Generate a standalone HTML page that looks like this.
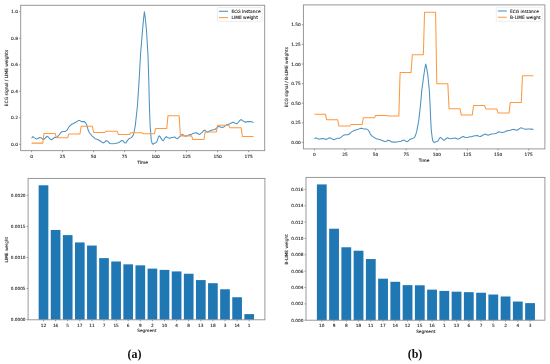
<!DOCTYPE html>
<html lang="en"><head><meta charset="utf-8"><title>Figure</title>
<style>html,body{margin:0;padding:0;background:#fff;overflow:hidden}svg{display:block}</style></head>
<body>
<svg width="550" height="364" viewBox="0 0 550 364" font-family="'DejaVu Sans', 'Liberation Sans', sans-serif">
<rect width="550" height="364" fill="#fff"/>
<g fill="none" stroke-linejoin="round" stroke-linecap="butt" opacity="0.8">
<polyline points="31.6,138.21 32.89,136.55 34.55,137.83 36.45,139.11 38.36,138.21 39.64,137.58 41.55,138.09 43.45,139.49 45.11,138.21 46.89,136.3 48.55,137.19 50.07,139.11 51.35,139.75 53,138.73 54.91,137.19 56.82,137.45 58.73,135.28 61.27,132.08 63.18,131.44 65.47,131.44 67,130.17 68.91,126.97 71.46,124.42 73.36,123.52 75.91,122.24 78.46,120.58 79.98,120.58 81.64,121.61 84.18,121.48 85.84,123.14 87.11,125.95 88.05,129.78 89.45,132.72 92,135.91 95.18,138.73 97.73,139.49 100.27,141.02 102.82,142.94 104.73,142.3 106,140.64 107.91,141.28 109.82,143.58 112.36,143.84 114.91,143.58 117.46,142.94 119.36,142.3 121.27,140.77 122.8,140.51 124.46,142.69 125,142.85 125.98,142.94 126.45,142.12 127.91,139.93 129.36,138.47 130.82,137.88 132.27,136.64 133.36,134.82 134.09,131.9 134.82,128.25 135.33,125.33 137.45,105.75 139.1,80.66 140.45,55.57 142.5,30.47 143.6,18.42 144.4,11.8 145.3,18.42 146.5,30.47 148,55.57 148.8,80.66 149.4,105.75 150.09,125.33 150.45,129.71 150.82,134.82 151.33,140.66 152.05,143.21 153,144.31 154.09,143.43 155.55,142.85 156.64,142.12 157.51,139.93 158.45,137.01 159.18,135.77 160.05,136.64 161,138.1 162.09,139.93 163.18,140.8 164.82,138.21 166.35,136.55 168,137.83 169.91,138.21 171.82,137.45 173.35,137.19 174.62,136.94 176.27,138.47 177.55,138.73 179.46,136.94 180.98,135.28 182.64,134.38 183.91,135.66 185.82,136.17 187.35,135.66 189,134.89 190.91,134.64 192.82,133.61 194.73,133.1 196.64,132.72 198.29,134 199.82,134.38 201.73,132.72 201.91,132.72 203.82,130.42 204.84,130.17 206.11,131.44 207.64,132.08 209.55,131.06 211.45,130.17 213.36,129.78 215.27,129.27 216.8,127.99 218.45,126.33 220.36,126.97 222.27,127.61 224.18,126.72 226.09,125.06 228,124.42 229.91,123.78 231.82,122.76 233.35,122.24 235,123.14 236.91,123.78 238.18,122.5 239.71,120.58 240.98,119.56 242.64,120.58 244.55,121.86 246.07,122.12 247.73,121.61 249.64,121.48 251.55,121.86 253.56,122.5" stroke="#1f77b4" stroke-width="1.05"/>
<polyline points="31.6,143.11 32.84,143.11 34.08,143.11 35.32,143.11 36.56,143.11 37.8,143.11 39.04,143.11 40.28,143.11 41.52,143.11 42.76,143.11 44,133.42 45.24,133.42 46.48,133.42 47.72,133.42 48.96,133.42 50.2,133.42 51.44,133.42 52.68,133.42 53.92,133.42 55.16,133.42 56.4,137.82 57.64,137.82 58.88,137.82 60.12,137.82 61.36,137.82 62.6,137.82 63.84,137.82 65.08,137.82 66.32,137.82 67.56,137.82 68.8,134.02 70.04,134.02 71.28,134.02 72.52,134.02 73.76,134.02 75,134.02 76.24,134.02 77.48,134.02 78.72,134.02 79.96,134.02 81.2,126.28 82.44,126.28 83.68,126.28 84.92,126.28 86.16,126.28 87.4,126.28 88.64,126.28 89.88,126.28 91.12,126.28 92.36,126.28 93.6,132.51 94.84,132.51 96.08,132.51 97.32,132.51 98.56,132.51 99.8,132.51 101.04,132.51 102.28,132.51 103.52,132.51 104.76,132.51 106,131.18 107.24,131.18 108.48,131.18 109.72,131.18 110.96,131.18 112.2,131.18 113.44,131.18 114.68,131.18 115.92,131.18 117.16,131.18 118.4,134.51 119.64,134.51 120.88,134.51 122.12,134.51 123.36,134.51 124.6,134.51 125.84,134.51 127.08,134.51 128.32,134.51 129.56,134.51 130.8,132.72 132.04,132.72 133.28,132.72 134.52,132.72 135.76,132.72 137,132.72 138.24,132.72 139.48,132.72 140.72,132.72 141.96,132.72 143.2,133.69 144.44,133.69 145.68,133.69 146.92,133.69 148.16,133.69 149.4,133.69 150.64,133.69 151.88,133.69 153.12,133.69 154.36,133.69 155.6,128.51 156.84,128.51 158.08,128.51 159.32,128.51 160.56,128.51 161.8,128.51 163.04,128.51 164.28,128.51 165.52,128.51 166.76,128.51 168,115.67 169.24,115.67 170.48,115.67 171.72,115.67 172.96,115.67 174.2,115.67 175.44,115.67 176.68,115.67 177.92,115.67 179.16,115.67 180.4,135.86 181.64,135.86 182.88,135.86 184.12,135.86 185.36,135.86 186.6,135.86 187.84,135.86 189.08,135.86 190.32,135.86 191.56,135.86 192.8,139.52 194.04,139.52 195.28,139.52 196.52,139.52 197.76,139.52 199,139.52 200.24,139.52 201.48,139.52 202.72,139.52 203.96,139.52 205.2,131.9 206.44,131.9 207.68,131.9 208.92,131.9 210.16,131.9 211.4,131.9 212.64,131.9 213.88,131.9 215.12,131.9 216.36,131.9 217.6,125.18 218.84,125.18 220.08,125.18 221.32,125.18 222.56,125.18 223.8,125.18 225.04,125.18 226.28,125.18 227.52,125.18 228.76,125.18 230,127.84 231.24,127.84 232.48,127.84 233.72,127.84 234.96,127.84 236.2,127.84 237.44,127.84 238.68,127.84 239.92,127.84 241.16,127.84 242.4,136.52 243.64,136.52 244.88,136.52 246.12,136.52 247.36,136.52 248.6,136.52 249.84,136.52 251.08,136.52 252.32,136.52 253.56,136.52" stroke="#ff7f0e" stroke-width="1.05"/>
</g>
<rect x="20.7" y="5.27" width="244" height="145.38" fill="none" stroke="#8e8e8e" stroke-width="0.9"/>
<line x1="31.6" y1="150.65" x2="31.6" y2="152.19" stroke="#8e8e8e" stroke-width="0.9"/>
<text transform="translate(31.6 157.67) scale(0.2195)" font-size="20" text-anchor="middle" fill="#262626" stroke="#262626" stroke-width="0.5">0</text>
<line x1="62.6" y1="150.65" x2="62.6" y2="152.19" stroke="#8e8e8e" stroke-width="0.9"/>
<text transform="translate(62.6 157.67) scale(0.2195)" font-size="20" text-anchor="middle" fill="#262626" stroke="#262626" stroke-width="0.5">25</text>
<line x1="93.6" y1="150.65" x2="93.6" y2="152.19" stroke="#8e8e8e" stroke-width="0.9"/>
<text transform="translate(93.6 157.67) scale(0.2195)" font-size="20" text-anchor="middle" fill="#262626" stroke="#262626" stroke-width="0.5">50</text>
<line x1="124.6" y1="150.65" x2="124.6" y2="152.19" stroke="#8e8e8e" stroke-width="0.9"/>
<text transform="translate(124.6 157.67) scale(0.2195)" font-size="20" text-anchor="middle" fill="#262626" stroke="#262626" stroke-width="0.5">75</text>
<line x1="155.6" y1="150.65" x2="155.6" y2="152.19" stroke="#8e8e8e" stroke-width="0.9"/>
<text transform="translate(155.6 157.67) scale(0.2195)" font-size="20" text-anchor="middle" fill="#262626" stroke="#262626" stroke-width="0.5">100</text>
<line x1="186.6" y1="150.65" x2="186.6" y2="152.19" stroke="#8e8e8e" stroke-width="0.9"/>
<text transform="translate(186.6 157.67) scale(0.2195)" font-size="20" text-anchor="middle" fill="#262626" stroke="#262626" stroke-width="0.5">125</text>
<line x1="217.6" y1="150.65" x2="217.6" y2="152.19" stroke="#8e8e8e" stroke-width="0.9"/>
<text transform="translate(217.6 157.67) scale(0.2195)" font-size="20" text-anchor="middle" fill="#262626" stroke="#262626" stroke-width="0.5">150</text>
<line x1="248.6" y1="150.65" x2="248.6" y2="152.19" stroke="#8e8e8e" stroke-width="0.9"/>
<text transform="translate(248.6 157.67) scale(0.2195)" font-size="20" text-anchor="middle" fill="#262626" stroke="#262626" stroke-width="0.5">175</text>
<line x1="19.16" y1="144.3" x2="20.7" y2="144.3" stroke="#8e8e8e" stroke-width="0.9"/>
<text transform="translate(18.07 145.9) scale(0.2195)" font-size="20" text-anchor="end" fill="#262626" stroke="#262626" stroke-width="0.5">0.0</text>
<line x1="19.16" y1="117.8" x2="20.7" y2="117.8" stroke="#8e8e8e" stroke-width="0.9"/>
<text transform="translate(18.07 119.4) scale(0.2195)" font-size="20" text-anchor="end" fill="#262626" stroke="#262626" stroke-width="0.5">0.2</text>
<line x1="19.16" y1="91.3" x2="20.7" y2="91.3" stroke="#8e8e8e" stroke-width="0.9"/>
<text transform="translate(18.07 92.9) scale(0.2195)" font-size="20" text-anchor="end" fill="#262626" stroke="#262626" stroke-width="0.5">0.4</text>
<line x1="19.16" y1="64.8" x2="20.7" y2="64.8" stroke="#8e8e8e" stroke-width="0.9"/>
<text transform="translate(18.07 66.4) scale(0.2195)" font-size="20" text-anchor="end" fill="#262626" stroke="#262626" stroke-width="0.5">0.6</text>
<line x1="19.16" y1="38.3" x2="20.7" y2="38.3" stroke="#8e8e8e" stroke-width="0.9"/>
<text transform="translate(18.07 39.9) scale(0.2195)" font-size="20" text-anchor="end" fill="#262626" stroke="#262626" stroke-width="0.5">0.8</text>
<line x1="19.16" y1="11.8" x2="20.7" y2="11.8" stroke="#8e8e8e" stroke-width="0.9"/>
<text transform="translate(18.07 13.4) scale(0.2195)" font-size="20" text-anchor="end" fill="#262626" stroke="#262626" stroke-width="0.5">1.0</text>
<text transform="translate(142.7 163.64) scale(0.2195)" font-size="20" text-anchor="middle" fill="#262626" stroke="#262626" stroke-width="0.5">Time</text>
<text transform="translate(8.1 77.9) rotate(-90) scale(0.2195)" font-size="20" text-anchor="middle" fill="#262626" stroke="#262626" stroke-width="0.5">ECG signal / LIME weights</text>
<rect x="217.4" y="7.5" width="44.7" height="13.9" rx="0.88" fill="#fff" fill-opacity="0.8" stroke="#ccc" stroke-width="0.35"/>
<line x1="218.94" y1="11.28" x2="228.02" y2="11.28" stroke="#1f77b4" stroke-width="1.05" opacity="0.8"/>
<text transform="translate(231.45 12.81) scale(0.2195)" font-size="20" text-anchor="start" fill="#262626" stroke="#262626" stroke-width="0.5">ECG instance</text>
<line x1="218.94" y1="17.6" x2="228.02" y2="17.6" stroke="#ff7f0e" stroke-width="1.05" opacity="0.8"/>
<text transform="translate(231.45 19.13) scale(0.2195)" font-size="20" text-anchor="start" fill="#262626" stroke="#262626" stroke-width="0.5">LIME weight</text>
<g fill="none" stroke-linejoin="round" stroke-linecap="butt" opacity="0.8">
<polyline points="314.4,138.8 315.67,137.82 317.31,138.57 319.19,139.33 321.08,138.8 322.33,138.42 324.22,138.72 326.1,139.55 327.74,138.8 329.49,137.67 331.13,138.19 332.63,139.33 333.89,139.71 335.52,139.1 337.41,138.19 339.29,138.35 341.18,137.06 343.69,135.17 345.57,134.79 347.84,134.79 349.34,134.04 351.23,132.15 353.74,130.63 355.63,130.11 358.14,129.35 360.65,128.37 362.16,128.37 363.79,128.97 366.3,128.9 367.94,129.88 369.19,131.54 370.13,133.81 371.51,135.55 374.02,137.44 377.16,139.1 379.67,139.55 382.19,140.46 384.7,141.6 386.58,141.22 387.84,140.24 389.72,140.61 391.61,141.97 394.12,142.13 396.63,141.97 399.15,141.6 401.03,141.22 402.92,140.31 404.42,140.16 406.06,141.44 406.59,141.54 407.56,141.6 408.03,141.11 409.47,139.81 410.9,138.95 412.34,138.6 413.77,137.87 414.85,136.79 415.57,135.06 416.29,132.9 416.79,131.17 418.88,119.59 420.51,104.74 421.85,89.9 423.87,75.05 424.95,67.92 425.74,64 426.63,67.92 427.82,75.05 429.3,89.9 430.09,104.74 430.68,119.59 431.36,131.17 431.72,133.77 432.08,136.79 432.58,140.25 433.3,141.76 434.23,142.41 435.31,141.89 436.75,141.54 437.82,141.11 438.68,139.81 439.62,138.09 440.34,137.35 441.2,137.87 442.13,138.73 443.21,139.81 444.28,140.33 445.9,138.8 447.41,137.82 449.04,138.57 450.92,138.8 452.81,138.35 454.32,138.19 455.57,138.04 457.21,138.95 458.46,139.1 460.35,138.04 461.86,137.06 463.49,136.53 464.74,137.29 466.63,137.59 468.14,137.29 469.77,136.83 471.65,136.68 473.54,136.08 475.42,135.78 477.31,135.55 478.94,136.3 480.45,136.53 482.33,135.55 482.51,135.55 484.4,134.19 485.4,134.04 486.66,134.79 488.17,135.17 490.05,134.57 491.93,134.04 493.82,133.81 495.7,133.51 497.21,132.75 498.84,131.77 500.73,132.15 502.61,132.52 504.5,132 506.38,131.01 508.27,130.63 510.15,130.26 512.04,129.65 513.54,129.35 515.18,129.88 517.06,130.26 518.32,129.5 519.82,128.37 521.08,127.76 522.71,128.37 524.6,129.12 526.11,129.27 527.74,128.97 529.62,128.9 531.51,129.12 533.5,129.5" stroke="#1f77b4" stroke-width="1.05"/>
<polyline points="314.4,114.33 315.62,114.33 316.85,114.33 318.07,114.33 319.3,114.33 320.52,114.33 321.74,114.33 322.97,114.33 324.19,114.33 325.42,114.33 326.64,119.66 327.86,119.66 329.09,119.66 330.31,119.66 331.54,119.66 332.76,119.66 333.98,119.66 335.21,119.66 336.43,119.66 337.66,119.66 338.88,126.01 340.1,126.01 341.33,126.01 342.55,126.01 343.78,126.01 345,126.01 346.22,126.01 347.45,126.01 348.67,126.01 349.9,126.01 351.12,124.52 352.34,124.52 353.57,124.52 354.79,124.52 356.02,124.52 357.24,124.52 358.46,124.52 359.69,124.52 360.91,124.52 362.14,124.52 363.36,117.78 364.58,117.78 365.81,117.78 367.03,117.78 368.26,117.78 369.48,117.78 370.7,117.78 371.93,117.78 373.15,117.78 374.38,117.78 375.6,115.51 376.82,115.51 378.05,115.51 379.27,115.51 380.5,115.51 381.72,115.51 382.94,115.51 384.17,115.51 385.39,115.51 386.62,115.51 387.84,116.06 389.06,116.06 390.29,116.06 391.51,116.06 392.74,116.06 393.96,116.06 395.18,116.06 396.41,116.06 397.63,116.06 398.86,116.06 400.08,72.47 401.3,72.47 402.53,72.47 403.75,72.47 404.98,72.47 406.2,72.47 407.42,72.47 408.65,72.47 409.87,72.47 411.1,72.47 412.32,54.67 413.54,54.67 414.77,54.67 415.99,54.67 417.22,54.67 418.44,54.67 419.66,54.67 420.89,54.67 422.11,54.67 423.34,54.67 424.56,12.18 425.78,12.18 427.01,12.18 428.23,12.18 429.46,12.18 430.68,12.18 431.9,12.18 433.13,12.18 434.35,12.18 435.58,12.18 436.8,83.76 438.02,83.76 439.25,83.76 440.47,83.76 441.7,83.76 442.92,83.76 444.14,83.76 445.37,83.76 446.59,83.76 447.82,83.76 449.04,108.77 450.26,108.77 451.49,108.77 452.71,108.77 453.94,108.77 455.16,108.77 456.38,108.77 457.61,108.77 458.83,108.77 460.06,108.77 461.28,115.04 462.5,115.04 463.73,115.04 464.95,115.04 466.18,115.04 467.4,115.04 468.62,115.04 469.85,115.04 471.07,115.04 472.3,115.04 473.52,105.55 474.74,105.55 475.97,105.55 477.19,105.55 478.42,105.55 479.64,105.55 480.86,105.55 482.09,105.55 483.31,105.55 484.54,105.55 485.76,108.92 486.98,108.92 488.21,108.92 489.43,108.92 490.66,108.92 491.88,108.92 493.1,108.92 494.33,108.92 495.55,108.92 496.78,108.92 498,113.08 499.22,113.08 500.45,113.08 501.67,113.08 502.9,113.08 504.12,113.08 505.34,113.08 506.57,113.08 507.79,113.08 509.02,113.08 510.24,102.57 511.46,102.57 512.69,102.57 513.91,102.57 515.14,102.57 516.36,102.57 517.58,102.57 518.81,102.57 520.03,102.57 521.26,102.57 522.48,75.76 523.7,75.76 524.93,75.76 526.15,75.76 527.38,75.76 528.6,75.76 529.82,75.76 531.05,75.76 532.27,75.76 533.5,75.76" stroke="#ff7f0e" stroke-width="1.05"/>
</g>
<rect x="303.4" y="4.9" width="241.5" height="144" fill="none" stroke="#8e8e8e" stroke-width="0.9"/>
<line x1="314.4" y1="148.9" x2="314.4" y2="150.41" stroke="#8e8e8e" stroke-width="0.9"/>
<text transform="translate(314.4 155.81) scale(0.2160)" font-size="20" text-anchor="middle" fill="#262626" stroke="#262626" stroke-width="0.5">0</text>
<line x1="345" y1="148.9" x2="345" y2="150.41" stroke="#8e8e8e" stroke-width="0.9"/>
<text transform="translate(345 155.81) scale(0.2160)" font-size="20" text-anchor="middle" fill="#262626" stroke="#262626" stroke-width="0.5">25</text>
<line x1="375.6" y1="148.9" x2="375.6" y2="150.41" stroke="#8e8e8e" stroke-width="0.9"/>
<text transform="translate(375.6 155.81) scale(0.2160)" font-size="20" text-anchor="middle" fill="#262626" stroke="#262626" stroke-width="0.5">50</text>
<line x1="406.2" y1="148.9" x2="406.2" y2="150.41" stroke="#8e8e8e" stroke-width="0.9"/>
<text transform="translate(406.2 155.81) scale(0.2160)" font-size="20" text-anchor="middle" fill="#262626" stroke="#262626" stroke-width="0.5">75</text>
<line x1="436.8" y1="148.9" x2="436.8" y2="150.41" stroke="#8e8e8e" stroke-width="0.9"/>
<text transform="translate(436.8 155.81) scale(0.2160)" font-size="20" text-anchor="middle" fill="#262626" stroke="#262626" stroke-width="0.5">100</text>
<line x1="467.4" y1="148.9" x2="467.4" y2="150.41" stroke="#8e8e8e" stroke-width="0.9"/>
<text transform="translate(467.4 155.81) scale(0.2160)" font-size="20" text-anchor="middle" fill="#262626" stroke="#262626" stroke-width="0.5">125</text>
<line x1="498" y1="148.9" x2="498" y2="150.41" stroke="#8e8e8e" stroke-width="0.9"/>
<text transform="translate(498 155.81) scale(0.2160)" font-size="20" text-anchor="middle" fill="#262626" stroke="#262626" stroke-width="0.5">150</text>
<line x1="528.6" y1="148.9" x2="528.6" y2="150.41" stroke="#8e8e8e" stroke-width="0.9"/>
<text transform="translate(528.6 155.81) scale(0.2160)" font-size="20" text-anchor="middle" fill="#262626" stroke="#262626" stroke-width="0.5">175</text>
<line x1="301.89" y1="142.4" x2="303.4" y2="142.4" stroke="#8e8e8e" stroke-width="0.9"/>
<text transform="translate(300.81 143.98) scale(0.2160)" font-size="20" text-anchor="end" fill="#262626" stroke="#262626" stroke-width="0.5">0.00</text>
<line x1="301.89" y1="122.8" x2="303.4" y2="122.8" stroke="#8e8e8e" stroke-width="0.9"/>
<text transform="translate(300.81 124.38) scale(0.2160)" font-size="20" text-anchor="end" fill="#262626" stroke="#262626" stroke-width="0.5">0.25</text>
<line x1="301.89" y1="103.2" x2="303.4" y2="103.2" stroke="#8e8e8e" stroke-width="0.9"/>
<text transform="translate(300.81 104.78) scale(0.2160)" font-size="20" text-anchor="end" fill="#262626" stroke="#262626" stroke-width="0.5">0.50</text>
<line x1="301.89" y1="83.6" x2="303.4" y2="83.6" stroke="#8e8e8e" stroke-width="0.9"/>
<text transform="translate(300.81 85.18) scale(0.2160)" font-size="20" text-anchor="end" fill="#262626" stroke="#262626" stroke-width="0.5">0.75</text>
<line x1="301.89" y1="64" x2="303.4" y2="64" stroke="#8e8e8e" stroke-width="0.9"/>
<text transform="translate(300.81 65.58) scale(0.2160)" font-size="20" text-anchor="end" fill="#262626" stroke="#262626" stroke-width="0.5">1.00</text>
<line x1="301.89" y1="44.4" x2="303.4" y2="44.4" stroke="#8e8e8e" stroke-width="0.9"/>
<text transform="translate(300.81 45.98) scale(0.2160)" font-size="20" text-anchor="end" fill="#262626" stroke="#262626" stroke-width="0.5">1.25</text>
<line x1="301.89" y1="24.8" x2="303.4" y2="24.8" stroke="#8e8e8e" stroke-width="0.9"/>
<text transform="translate(300.81 26.38) scale(0.2160)" font-size="20" text-anchor="end" fill="#262626" stroke="#262626" stroke-width="0.5">1.50</text>
<text transform="translate(424.15 161.69) scale(0.2160)" font-size="20" text-anchor="middle" fill="#262626" stroke="#262626" stroke-width="0.5">Time</text>
<text transform="translate(287.8 77.2) rotate(-90) scale(0.2160)" font-size="20" text-anchor="middle" fill="#262626" stroke="#262626" stroke-width="0.5">ECG signal / B-LIME weights</text>
<rect x="496.3" y="7.3" width="45.8" height="14" rx="0.86" fill="#fff" fill-opacity="0.8" stroke="#ccc" stroke-width="0.35"/>
<line x1="497.81" y1="11.02" x2="506.75" y2="11.02" stroke="#1f77b4" stroke-width="1.05" opacity="0.8"/>
<text transform="translate(510.12 12.53) scale(0.2160)" font-size="20" text-anchor="start" fill="#262626" stroke="#262626" stroke-width="0.5">ECG instance</text>
<line x1="497.81" y1="17.24" x2="506.75" y2="17.24" stroke="#ff7f0e" stroke-width="1.05" opacity="0.8"/>
<text transform="translate(510.12 18.75) scale(0.2160)" font-size="20" text-anchor="start" fill="#262626" stroke="#262626" stroke-width="0.5">B-LIME weight</text>
<rect x="38.66" y="185.29" width="9.68" height="134.41" fill="#1f77b4"/>
<rect x="50.76" y="229.95" width="9.68" height="89.75" fill="#1f77b4"/>
<rect x="62.86" y="235.11" width="9.68" height="84.59" fill="#1f77b4"/>
<rect x="74.96" y="242.45" width="9.68" height="77.25" fill="#1f77b4"/>
<rect x="87.06" y="245.56" width="9.68" height="74.14" fill="#1f77b4"/>
<rect x="99.16" y="258.12" width="9.68" height="61.58" fill="#1f77b4"/>
<rect x="111.26" y="261.48" width="9.68" height="58.22" fill="#1f77b4"/>
<rect x="123.36" y="264.34" width="9.68" height="55.36" fill="#1f77b4"/>
<rect x="135.46" y="265.34" width="9.68" height="54.36" fill="#1f77b4"/>
<rect x="147.56" y="268.63" width="9.68" height="51.07" fill="#1f77b4"/>
<rect x="159.66" y="269.88" width="9.68" height="49.82" fill="#1f77b4"/>
<rect x="171.76" y="271.43" width="9.68" height="48.27" fill="#1f77b4"/>
<rect x="183.86" y="273.73" width="9.68" height="45.97" fill="#1f77b4"/>
<rect x="195.96" y="280.08" width="9.68" height="39.62" fill="#1f77b4"/>
<rect x="208.06" y="283.19" width="9.68" height="36.51" fill="#1f77b4"/>
<rect x="220.16" y="289.28" width="9.68" height="30.42" fill="#1f77b4"/>
<rect x="232.26" y="297.25" width="9.68" height="22.45" fill="#1f77b4"/>
<rect x="244.36" y="314.1" width="9.68" height="5.6" fill="#1f77b4"/>
<rect x="28.1" y="178.4" width="236.8" height="141.4" fill="none" stroke="#8e8e8e" stroke-width="0.9"/>
<line x1="43.5" y1="319.8" x2="43.5" y2="321.29" stroke="#8e8e8e" stroke-width="0.9"/>
<text transform="translate(43.5 326.69) scale(0.2125)" font-size="20" text-anchor="middle" fill="#262626" stroke="#262626" stroke-width="0.5">12</text>
<line x1="55.6" y1="319.8" x2="55.6" y2="321.29" stroke="#8e8e8e" stroke-width="0.9"/>
<text transform="translate(55.6 326.69) scale(0.2125)" font-size="20" text-anchor="middle" fill="#262626" stroke="#262626" stroke-width="0.5">16</text>
<line x1="67.7" y1="319.8" x2="67.7" y2="321.29" stroke="#8e8e8e" stroke-width="0.9"/>
<text transform="translate(67.7 326.69) scale(0.2125)" font-size="20" text-anchor="middle" fill="#262626" stroke="#262626" stroke-width="0.5">5</text>
<line x1="79.8" y1="319.8" x2="79.8" y2="321.29" stroke="#8e8e8e" stroke-width="0.9"/>
<text transform="translate(79.8 326.69) scale(0.2125)" font-size="20" text-anchor="middle" fill="#262626" stroke="#262626" stroke-width="0.5">17</text>
<line x1="91.9" y1="319.8" x2="91.9" y2="321.29" stroke="#8e8e8e" stroke-width="0.9"/>
<text transform="translate(91.9 326.69) scale(0.2125)" font-size="20" text-anchor="middle" fill="#262626" stroke="#262626" stroke-width="0.5">11</text>
<line x1="104" y1="319.8" x2="104" y2="321.29" stroke="#8e8e8e" stroke-width="0.9"/>
<text transform="translate(104 326.69) scale(0.2125)" font-size="20" text-anchor="middle" fill="#262626" stroke="#262626" stroke-width="0.5">7</text>
<line x1="116.1" y1="319.8" x2="116.1" y2="321.29" stroke="#8e8e8e" stroke-width="0.9"/>
<text transform="translate(116.1 326.69) scale(0.2125)" font-size="20" text-anchor="middle" fill="#262626" stroke="#262626" stroke-width="0.5">15</text>
<line x1="128.2" y1="319.8" x2="128.2" y2="321.29" stroke="#8e8e8e" stroke-width="0.9"/>
<text transform="translate(128.2 326.69) scale(0.2125)" font-size="20" text-anchor="middle" fill="#262626" stroke="#262626" stroke-width="0.5">6</text>
<line x1="140.3" y1="319.8" x2="140.3" y2="321.29" stroke="#8e8e8e" stroke-width="0.9"/>
<text transform="translate(140.3 326.69) scale(0.2125)" font-size="20" text-anchor="middle" fill="#262626" stroke="#262626" stroke-width="0.5">9</text>
<line x1="152.4" y1="319.8" x2="152.4" y2="321.29" stroke="#8e8e8e" stroke-width="0.9"/>
<text transform="translate(152.4 326.69) scale(0.2125)" font-size="20" text-anchor="middle" fill="#262626" stroke="#262626" stroke-width="0.5">2</text>
<line x1="164.5" y1="319.8" x2="164.5" y2="321.29" stroke="#8e8e8e" stroke-width="0.9"/>
<text transform="translate(164.5 326.69) scale(0.2125)" font-size="20" text-anchor="middle" fill="#262626" stroke="#262626" stroke-width="0.5">10</text>
<line x1="176.6" y1="319.8" x2="176.6" y2="321.29" stroke="#8e8e8e" stroke-width="0.9"/>
<text transform="translate(176.6 326.69) scale(0.2125)" font-size="20" text-anchor="middle" fill="#262626" stroke="#262626" stroke-width="0.5">4</text>
<line x1="188.7" y1="319.8" x2="188.7" y2="321.29" stroke="#8e8e8e" stroke-width="0.9"/>
<text transform="translate(188.7 326.69) scale(0.2125)" font-size="20" text-anchor="middle" fill="#262626" stroke="#262626" stroke-width="0.5">8</text>
<line x1="200.8" y1="319.8" x2="200.8" y2="321.29" stroke="#8e8e8e" stroke-width="0.9"/>
<text transform="translate(200.8 326.69) scale(0.2125)" font-size="20" text-anchor="middle" fill="#262626" stroke="#262626" stroke-width="0.5">13</text>
<line x1="212.9" y1="319.8" x2="212.9" y2="321.29" stroke="#8e8e8e" stroke-width="0.9"/>
<text transform="translate(212.9 326.69) scale(0.2125)" font-size="20" text-anchor="middle" fill="#262626" stroke="#262626" stroke-width="0.5">18</text>
<line x1="225" y1="319.8" x2="225" y2="321.29" stroke="#8e8e8e" stroke-width="0.9"/>
<text transform="translate(225 326.69) scale(0.2125)" font-size="20" text-anchor="middle" fill="#262626" stroke="#262626" stroke-width="0.5">3</text>
<line x1="237.1" y1="319.8" x2="237.1" y2="321.29" stroke="#8e8e8e" stroke-width="0.9"/>
<text transform="translate(237.1 326.69) scale(0.2125)" font-size="20" text-anchor="middle" fill="#262626" stroke="#262626" stroke-width="0.5">14</text>
<line x1="249.2" y1="319.8" x2="249.2" y2="321.29" stroke="#8e8e8e" stroke-width="0.9"/>
<text transform="translate(249.2 326.69) scale(0.2125)" font-size="20" text-anchor="middle" fill="#262626" stroke="#262626" stroke-width="0.5">1</text>
<line x1="26.61" y1="319.7" x2="28.1" y2="319.7" stroke="#8e8e8e" stroke-width="0.9"/>
<text transform="translate(25.55 321.25) scale(0.2125)" font-size="20" text-anchor="end" fill="#262626" stroke="#262626" stroke-width="0.5">0.0000</text>
<line x1="26.61" y1="288.6" x2="28.1" y2="288.6" stroke="#8e8e8e" stroke-width="0.9"/>
<text transform="translate(25.55 290.15) scale(0.2125)" font-size="20" text-anchor="end" fill="#262626" stroke="#262626" stroke-width="0.5">0.0005</text>
<line x1="26.61" y1="257.5" x2="28.1" y2="257.5" stroke="#8e8e8e" stroke-width="0.9"/>
<text transform="translate(25.55 259.05) scale(0.2125)" font-size="20" text-anchor="end" fill="#262626" stroke="#262626" stroke-width="0.5">0.0010</text>
<line x1="26.61" y1="226.4" x2="28.1" y2="226.4" stroke="#8e8e8e" stroke-width="0.9"/>
<text transform="translate(25.55 227.95) scale(0.2125)" font-size="20" text-anchor="end" fill="#262626" stroke="#262626" stroke-width="0.5">0.0015</text>
<line x1="26.61" y1="195.3" x2="28.1" y2="195.3" stroke="#8e8e8e" stroke-width="0.9"/>
<text transform="translate(25.55 196.85) scale(0.2125)" font-size="20" text-anchor="end" fill="#262626" stroke="#262626" stroke-width="0.5">0.0020</text>
<text transform="translate(146.8 332.46) scale(0.2125)" font-size="20" text-anchor="middle" fill="#262626" stroke="#262626" stroke-width="0.5">Segment</text>
<text transform="translate(7.9 249.6) rotate(-90) scale(0.2125)" font-size="20" text-anchor="middle" fill="#262626" stroke="#262626" stroke-width="0.5">LIME weight</text>
<rect x="316.9" y="184.41" width="9.8" height="135.79" fill="#1f77b4"/>
<rect x="329.15" y="228.72" width="9.8" height="91.48" fill="#1f77b4"/>
<rect x="341.4" y="247.28" width="9.8" height="72.92" fill="#1f77b4"/>
<rect x="353.65" y="250.71" width="9.8" height="69.49" fill="#1f77b4"/>
<rect x="365.9" y="259.05" width="9.8" height="61.15" fill="#1f77b4"/>
<rect x="378.15" y="278.67" width="9.8" height="41.53" fill="#1f77b4"/>
<rect x="390.4" y="281.78" width="9.8" height="38.42" fill="#1f77b4"/>
<rect x="402.65" y="285.13" width="9.8" height="35.07" fill="#1f77b4"/>
<rect x="414.9" y="285.29" width="9.8" height="34.91" fill="#1f77b4"/>
<rect x="427.15" y="289.63" width="9.8" height="30.57" fill="#1f77b4"/>
<rect x="439.4" y="290.93" width="9.8" height="29.27" fill="#1f77b4"/>
<rect x="451.65" y="291.67" width="9.8" height="28.53" fill="#1f77b4"/>
<rect x="463.9" y="292.16" width="9.8" height="28.04" fill="#1f77b4"/>
<rect x="476.15" y="292.73" width="9.8" height="27.47" fill="#1f77b4"/>
<rect x="488.4" y="294.53" width="9.8" height="25.67" fill="#1f77b4"/>
<rect x="500.65" y="296.49" width="9.8" height="23.71" fill="#1f77b4"/>
<rect x="512.9" y="301.56" width="9.8" height="18.64" fill="#1f77b4"/>
<rect x="525.15" y="303.11" width="9.8" height="17.09" fill="#1f77b4"/>
<rect x="306" y="177.4" width="238.9" height="142.8" fill="none" stroke="#8e8e8e" stroke-width="0.9"/>
<line x1="321.8" y1="320.2" x2="321.8" y2="321.7" stroke="#8e8e8e" stroke-width="0.9"/>
<text transform="translate(321.8 327.13) scale(0.2140)" font-size="20" text-anchor="middle" fill="#262626" stroke="#262626" stroke-width="0.5">10</text>
<line x1="334.05" y1="320.2" x2="334.05" y2="321.7" stroke="#8e8e8e" stroke-width="0.9"/>
<text transform="translate(334.05 327.13) scale(0.2140)" font-size="20" text-anchor="middle" fill="#262626" stroke="#262626" stroke-width="0.5">9</text>
<line x1="346.3" y1="320.2" x2="346.3" y2="321.7" stroke="#8e8e8e" stroke-width="0.9"/>
<text transform="translate(346.3 327.13) scale(0.2140)" font-size="20" text-anchor="middle" fill="#262626" stroke="#262626" stroke-width="0.5">8</text>
<line x1="358.55" y1="320.2" x2="358.55" y2="321.7" stroke="#8e8e8e" stroke-width="0.9"/>
<text transform="translate(358.55 327.13) scale(0.2140)" font-size="20" text-anchor="middle" fill="#262626" stroke="#262626" stroke-width="0.5">18</text>
<line x1="370.8" y1="320.2" x2="370.8" y2="321.7" stroke="#8e8e8e" stroke-width="0.9"/>
<text transform="translate(370.8 327.13) scale(0.2140)" font-size="20" text-anchor="middle" fill="#262626" stroke="#262626" stroke-width="0.5">11</text>
<line x1="383.05" y1="320.2" x2="383.05" y2="321.7" stroke="#8e8e8e" stroke-width="0.9"/>
<text transform="translate(383.05 327.13) scale(0.2140)" font-size="20" text-anchor="middle" fill="#262626" stroke="#262626" stroke-width="0.5">17</text>
<line x1="395.3" y1="320.2" x2="395.3" y2="321.7" stroke="#8e8e8e" stroke-width="0.9"/>
<text transform="translate(395.3 327.13) scale(0.2140)" font-size="20" text-anchor="middle" fill="#262626" stroke="#262626" stroke-width="0.5">14</text>
<line x1="407.55" y1="320.2" x2="407.55" y2="321.7" stroke="#8e8e8e" stroke-width="0.9"/>
<text transform="translate(407.55 327.13) scale(0.2140)" font-size="20" text-anchor="middle" fill="#262626" stroke="#262626" stroke-width="0.5">12</text>
<line x1="419.8" y1="320.2" x2="419.8" y2="321.7" stroke="#8e8e8e" stroke-width="0.9"/>
<text transform="translate(419.8 327.13) scale(0.2140)" font-size="20" text-anchor="middle" fill="#262626" stroke="#262626" stroke-width="0.5">15</text>
<line x1="432.05" y1="320.2" x2="432.05" y2="321.7" stroke="#8e8e8e" stroke-width="0.9"/>
<text transform="translate(432.05 327.13) scale(0.2140)" font-size="20" text-anchor="middle" fill="#262626" stroke="#262626" stroke-width="0.5">16</text>
<line x1="444.3" y1="320.2" x2="444.3" y2="321.7" stroke="#8e8e8e" stroke-width="0.9"/>
<text transform="translate(444.3 327.13) scale(0.2140)" font-size="20" text-anchor="middle" fill="#262626" stroke="#262626" stroke-width="0.5">1</text>
<line x1="456.55" y1="320.2" x2="456.55" y2="321.7" stroke="#8e8e8e" stroke-width="0.9"/>
<text transform="translate(456.55 327.13) scale(0.2140)" font-size="20" text-anchor="middle" fill="#262626" stroke="#262626" stroke-width="0.5">13</text>
<line x1="468.8" y1="320.2" x2="468.8" y2="321.7" stroke="#8e8e8e" stroke-width="0.9"/>
<text transform="translate(468.8 327.13) scale(0.2140)" font-size="20" text-anchor="middle" fill="#262626" stroke="#262626" stroke-width="0.5">6</text>
<line x1="481.05" y1="320.2" x2="481.05" y2="321.7" stroke="#8e8e8e" stroke-width="0.9"/>
<text transform="translate(481.05 327.13) scale(0.2140)" font-size="20" text-anchor="middle" fill="#262626" stroke="#262626" stroke-width="0.5">7</text>
<line x1="493.3" y1="320.2" x2="493.3" y2="321.7" stroke="#8e8e8e" stroke-width="0.9"/>
<text transform="translate(493.3 327.13) scale(0.2140)" font-size="20" text-anchor="middle" fill="#262626" stroke="#262626" stroke-width="0.5">5</text>
<line x1="505.55" y1="320.2" x2="505.55" y2="321.7" stroke="#8e8e8e" stroke-width="0.9"/>
<text transform="translate(505.55 327.13) scale(0.2140)" font-size="20" text-anchor="middle" fill="#262626" stroke="#262626" stroke-width="0.5">2</text>
<line x1="517.8" y1="320.2" x2="517.8" y2="321.7" stroke="#8e8e8e" stroke-width="0.9"/>
<text transform="translate(517.8 327.13) scale(0.2140)" font-size="20" text-anchor="middle" fill="#262626" stroke="#262626" stroke-width="0.5">4</text>
<line x1="530.05" y1="320.2" x2="530.05" y2="321.7" stroke="#8e8e8e" stroke-width="0.9"/>
<text transform="translate(530.05 327.13) scale(0.2140)" font-size="20" text-anchor="middle" fill="#262626" stroke="#262626" stroke-width="0.5">3</text>
<line x1="304.5" y1="320.2" x2="306" y2="320.2" stroke="#8e8e8e" stroke-width="0.9"/>
<text transform="translate(303.43 321.76) scale(0.2140)" font-size="20" text-anchor="end" fill="#262626" stroke="#262626" stroke-width="0.5">0.000</text>
<line x1="304.5" y1="303.85" x2="306" y2="303.85" stroke="#8e8e8e" stroke-width="0.9"/>
<text transform="translate(303.43 305.41) scale(0.2140)" font-size="20" text-anchor="end" fill="#262626" stroke="#262626" stroke-width="0.5">0.002</text>
<line x1="304.5" y1="287.5" x2="306" y2="287.5" stroke="#8e8e8e" stroke-width="0.9"/>
<text transform="translate(303.43 289.06) scale(0.2140)" font-size="20" text-anchor="end" fill="#262626" stroke="#262626" stroke-width="0.5">0.004</text>
<line x1="304.5" y1="271.15" x2="306" y2="271.15" stroke="#8e8e8e" stroke-width="0.9"/>
<text transform="translate(303.43 272.71) scale(0.2140)" font-size="20" text-anchor="end" fill="#262626" stroke="#262626" stroke-width="0.5">0.006</text>
<line x1="304.5" y1="254.8" x2="306" y2="254.8" stroke="#8e8e8e" stroke-width="0.9"/>
<text transform="translate(303.43 256.36) scale(0.2140)" font-size="20" text-anchor="end" fill="#262626" stroke="#262626" stroke-width="0.5">0.008</text>
<line x1="304.5" y1="238.45" x2="306" y2="238.45" stroke="#8e8e8e" stroke-width="0.9"/>
<text transform="translate(303.43 240.01) scale(0.2140)" font-size="20" text-anchor="end" fill="#262626" stroke="#262626" stroke-width="0.5">0.010</text>
<line x1="304.5" y1="222.1" x2="306" y2="222.1" stroke="#8e8e8e" stroke-width="0.9"/>
<text transform="translate(303.43 223.66) scale(0.2140)" font-size="20" text-anchor="end" fill="#262626" stroke="#262626" stroke-width="0.5">0.012</text>
<line x1="304.5" y1="205.75" x2="306" y2="205.75" stroke="#8e8e8e" stroke-width="0.9"/>
<text transform="translate(303.43 207.31) scale(0.2140)" font-size="20" text-anchor="end" fill="#262626" stroke="#262626" stroke-width="0.5">0.014</text>
<line x1="304.5" y1="189.4" x2="306" y2="189.4" stroke="#8e8e8e" stroke-width="0.9"/>
<text transform="translate(303.43 190.96) scale(0.2140)" font-size="20" text-anchor="end" fill="#262626" stroke="#262626" stroke-width="0.5">0.016</text>
<text transform="translate(425.75 332.95) scale(0.2140)" font-size="20" text-anchor="middle" fill="#262626" stroke="#262626" stroke-width="0.5">Segment</text>
<text transform="translate(288.4 249.3) rotate(-90) scale(0.2140)" font-size="20" text-anchor="middle" fill="#262626" stroke="#262626" stroke-width="0.5">B-LIME weight</text>
<text x="134.4" y="357.7" font-family="'Liberation Serif', serif" font-weight="bold" font-size="12" text-anchor="middle" fill="#111">(a)</text>
<text x="415" y="357.7" font-family="'Liberation Serif', serif" font-weight="bold" font-size="12" text-anchor="middle" fill="#111">(b)</text>
</svg>
</body></html>
